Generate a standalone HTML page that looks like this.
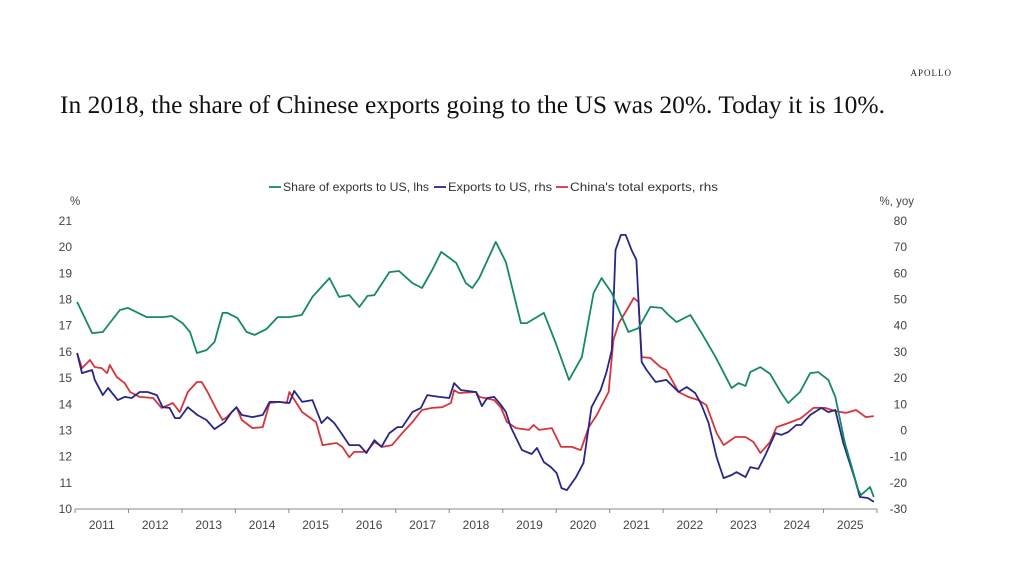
<!DOCTYPE html>
<html><head><meta charset="utf-8"><style>
html,body{margin:0;padding:0;background:#fff;}
svg{display:block;font-family:"Liberation Sans",sans-serif;}
</style></head><body>
<svg id="chart" width="1013" height="569" viewBox="0 0 1013 569">
<text x="952" y="76" font-family="Liberation Serif,serif" font-size="9" text-anchor="end" letter-spacing="1" fill="#222">APOLLO</text>
<text x="60" y="113" font-family="Liberation Serif,serif" font-size="25" textLength="825" lengthAdjust="spacingAndGlyphs" fill="#111">In 2018, the share of Chinese exports going to the US was 20%. Today it is 10%.</text>
<g id="legend" font-size="12" fill="#333"></g>
<text x="70" y="205" font-size="11.5" fill="#444">%</text>
<text x="914" y="205" font-size="11.5" fill="#444" text-anchor="end">%, yoy</text>
<g id="axes"></g>
<g id="series"></g>
</svg>
<script>
const yearLabels = [2011,2012,2013,2014,2015,2016,2017,2018,2019,2020,2021,2022,2023,2024,2025];
const leftTicks = [10,11,12,13,14,15,16,17,18,19,20,21];
const rightTicks = [-30,-20,-10,0,10,20,30,40,50,60,70,80];

const shareDates = [2011.04,2011.32,2011.52,2011.84,2011.99,2012.34,2012.64,2012.81,2013.01,2013.15,2013.28,2013.46,2013.61,2013.76,2013.85,2014.04,2014.21,2014.36,2014.58,2014.79,2015.01,2015.24,2015.44,2015.76,2015.94,2016.13,2016.32,2016.47,2016.60,2016.88,2017.06,2017.31,2017.49,2017.68,2017.85,2018.13,2018.31,2018.43,2018.56,2018.87,2019.06,2019.34,2019.45,2019.77,2019.99,2020.24,2020.48,2020.70,2020.85,2021.04,2021.17,2021.35,2021.54,2021.76,2021.97,2022.10,2022.25,2022.51,2022.72,2022.98,2023.28,2023.41,2023.54,2023.63,2023.82,2024.00,2024.21,2024.34,2024.56,2024.75,2024.90,2025.09,2025.22,2025.40,2025.65,2025.70,2025.87,2025.94];
const shareValues = [17.91,16.72,16.76,17.60,17.68,17.33,17.33,17.37,17.10,16.76,15.96,16.07,16.38,17.49,17.49,17.29,16.76,16.65,16.87,17.33,17.33,17.41,18.10,18.82,18.10,18.17,17.72,18.14,18.17,19.05,19.09,18.63,18.44,19.13,19.82,19.40,18.63,18.44,18.82,20.20,19.43,17.10,17.10,17.49,16.34,14.93,15.81,18.25,18.82,18.25,17.60,16.76,16.91,17.72,17.68,17.41,17.14,17.41,16.72,15.81,14.62,14.81,14.70,15.23,15.42,15.16,14.43,14.05,14.47,15.19,15.23,14.93,14.28,12.52,10.72,10.53,10.84,10.46];

const usDates = [2011.04,2011.13,2011.32,2011.37,2011.52,2011.62,2011.80,2011.93,2012.06,2012.21,2012.36,2012.53,2012.64,2012.77,2012.87,2012.96,2013.11,2013.29,2013.46,2013.61,2013.80,2013.93,2014.02,2014.12,2014.32,2014.51,2014.64,2014.82,2015.01,2015.10,2015.25,2015.44,2015.61,2015.72,2015.85,2015.98,2016.13,2016.32,2016.45,2016.60,2016.73,2016.88,2017.03,2017.12,2017.31,2017.47,2017.59,2017.81,2018.00,2018.09,2018.22,2018.50,2018.61,2018.71,2018.84,2018.97,2019.06,2019.15,2019.36,2019.54,2019.64,2019.77,2019.90,2020.01,2020.10,2020.20,2020.37,2020.51,2020.66,2020.83,2020.94,2021.04,2021.11,2021.21,2021.30,2021.41,2021.50,2021.60,2021.69,2021.86,2022.06,2022.29,2022.44,2022.60,2022.72,2022.85,2023.00,2023.13,2023.28,2023.37,2023.54,2023.63,2023.78,2023.91,2024.10,2024.21,2024.34,2024.49,2024.58,2024.75,2024.96,2025.09,2025.22,2025.37,2025.59,2025.68,2025.83,2025.94];
const usValues = [29.6,21.9,23.1,19.3,13.5,16.2,11.6,12.8,12.4,14.7,14.7,13.5,8.9,8.6,4.7,4.7,8.9,5.9,4.0,0.5,3.2,7.0,8.9,5.9,5.1,5.9,10.9,10.9,10.5,15.1,10.9,11.6,2.8,5.1,2.8,-1.0,-5.6,-5.6,-8.6,-3.7,-6.3,-1.0,1.3,1.3,7.0,8.6,13.5,12.8,12.4,18.1,15.4,14.7,9.3,12.4,12.8,9.7,7.0,1.3,-7.5,-9.0,-6.7,-12.1,-14.0,-16.3,-22.0,-22.8,-17.8,-12.4,8.9,15.4,22.3,30.7,68.9,74.7,74.7,68.9,65.1,26.1,23.1,18.5,19.3,14.7,16.6,14.3,9.7,2.8,-10.2,-18.2,-17.0,-15.9,-17.8,-14.0,-14.7,-9.4,-1.0,-1.7,-0.6,2.1,2.1,5.9,8.6,7.0,7.8,-4.8,-18.9,-25.4,-25.8,-27.3];

const totalDates = [2011.04,2011.13,2011.28,2011.37,2011.50,2011.60,2011.65,2011.78,2011.93,2012.03,2012.21,2012.46,2012.62,2012.83,2012.96,2013.11,2013.28,2013.37,2013.48,2013.65,2013.76,2013.84,2014.02,2014.12,2014.32,2014.51,2014.64,2014.82,2014.96,2015.01,2015.25,2015.51,2015.63,2015.89,2016.00,2016.13,2016.22,2016.45,2016.60,2016.75,2016.93,2017.12,2017.31,2017.49,2017.68,2017.87,2018.03,2018.09,2018.18,2018.50,2018.56,2018.84,2018.97,2019.08,2019.25,2019.49,2019.58,2019.68,2019.92,2020.09,2020.29,2020.46,2020.61,2020.76,2020.98,2021.07,2021.17,2021.32,2021.45,2021.54,2021.60,2021.76,2021.95,2022.06,2022.29,2022.47,2022.66,2022.81,2023.00,2023.13,2023.35,2023.54,2023.69,2023.82,2024.00,2024.12,2024.34,2024.58,2024.81,2025.03,2025.22,2025.42,2025.61,2025.79,2025.94];
const totalValues = [29.6,23.8,26.9,24.2,23.8,21.9,25.0,20.4,18.1,14.7,12.8,12.4,8.6,10.5,7.0,14.7,18.5,18.5,14.7,7.8,4.0,5.1,8.9,4.0,0.9,1.3,10.5,10.9,10.5,14.7,7.0,3.2,-5.6,-4.8,-6.3,-10.2,-8.2,-8.2,-4.4,-6.3,-5.6,-1.0,3.2,7.8,8.6,8.9,10.5,15.4,14.3,14.7,12.8,11.6,8.6,3.2,0.9,0.2,2.1,0.2,0.9,-6.3,-6.3,-7.5,1.3,5.9,14.7,34.5,41.0,46.0,50.6,49.1,28.0,27.7,24.2,23.1,14.7,12.8,11.6,9.7,-1.0,-5.6,-2.5,-2.5,-4.4,-8.6,-4.4,1.3,2.8,4.7,8.6,8.6,7.4,6.7,7.8,5.1,5.5];

const X0 = 75, X1 = 877, T0 = 2011, T1 = 2026;
const YT = 221, YB = 509;
function xScale(t){ return X0 + (t - T0) / (T1 - T0) * (X1 - X0); }
function yLeft(v){ return YB - (v - 10) / (21 - 10) * (YB - YT); }
function yRight(v){ return YB - (v + 30) / (80 + 30) * (YB - YT); }

const NS = "http://www.w3.org/2000/svg";
function mk(tag, attrs, parent){ const e = document.createElementNS(NS, tag); for (const k in attrs) e.setAttribute(k, attrs[k]); parent.appendChild(e); return e; }
const axes = document.getElementById('axes');
const series = document.getElementById('series');
const legend = document.getElementById('legend');

const xAxis = mk('line', {x1:X0, x2:X1, y1:YB, y2:YB, stroke:'#888', 'stroke-width':1}, axes);


for (let i = 0; i <= yearLabels.length; i++) {
  const tk = mk('line', {x1:xScale(T0+i), x2:xScale(T0+i), y1:YB, y2:YB+4, stroke:'#888', 'stroke-width':1}, axes);
  
  
}
yearLabels.forEach(y => {
  const t = mk('text', {x:xScale(y+0.5), y:YB+20, 'font-size':12, fill:'#444', 'text-anchor':'middle'}, axes);
  t.textContent = y;
  
  
});
leftTicks.forEach(v => {
  const t = mk('text', {x:72, y:yLeft(v)+4, 'font-size':12, fill:'#444', 'text-anchor':'end'}, axes);
  t.textContent = v;
  
  
});
rightTicks.forEach(v => {
  const t = mk('text', {x:907, y:yRight(v)+4, 'font-size':12, fill:'#444', 'text-anchor':'end'}, axes);
  t.textContent = v;
  
  
});

function drawLine(dates, vals, yf, color, name){
  const d = dates.map((t,i) => (i ? 'L' : 'M') + xScale(t).toFixed(1) + ',' + yf(vals[i]).toFixed(1)).join('');
  const p = mk('path', {d:d, fill:'none', stroke:color, 'stroke-width':1.8, 'stroke-linejoin':'round'}, series);
  
  
}
drawLine(totalDates, totalValues, yRight, '#d8343c', 'china-total-exports-line');
drawLine(usDates, usValues, yRight, '#27278a', 'exports-to-us-line');
drawLine(shareDates, shareValues, yLeft, '#16886a', 'share-exports-to-us-line');

const legendItems = [['Share of exports to US, lhs','#16886a',269,146],['Exports to US, rhs','#27278a',434,104],['China\'s total exports, rhs','#d8343c',556,148]];
legendItems.forEach(([lbl,col,x,w]) => {
  const g = mk('g', {}, legend);
  
  
  mk('line', {x1:x, x2:x+12, y1:187, y2:187, stroke:col, 'stroke-width':1.8}, g);
  const t = mk('text', {x:x+14, y:191, 'font-size':12, fill:'#333', textLength:w, lengthAdjust:'spacingAndGlyphs'}, g);
  t.textContent = lbl;
});
</script>
</body></html>
